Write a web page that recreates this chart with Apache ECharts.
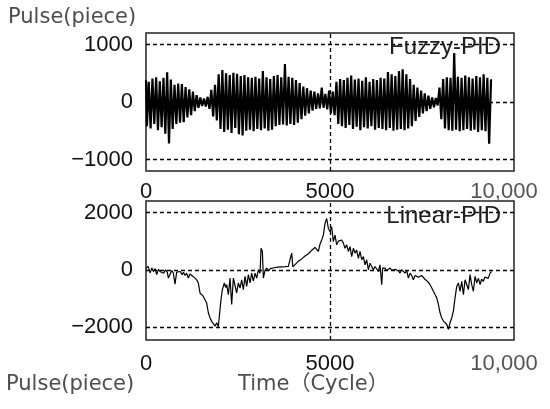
<!DOCTYPE html>
<html>
<head>
<meta charset="utf-8">
<script src="https://cdn.jsdelivr.net/npm/echarts@6/dist/echarts.min.js"></script>
<style>
html,body{margin:0;padding:0;background:#fff;}
#chart{width:550px;height:409px;}
</style>
</head>
<body>
<div id="chart"></div>
<script>
// ---------- data ----------
const xTicks = [0, 5000, 10000];
const fuzzyYTicks = [-1000, 0, 1000];
const linearYTicks = [-2000, 0, 2000];

// Fuzzy-PID: samples every 50 cycles starting at 0
const fuzzyStart = 0;
const fuzzyStep = 50;
const fuzzyValues = [
  380,-420,350,-460,410,-380,430,-490,360,-440,
  420,-550,515,-720,390,-470,300,-380,320,-360,
  310,-350,260,-270,220,-230,180,-160,120,-100,
  80,-70,60,-80,90,-120,210,-250,300,-320,
  480,-470,555,-520,500,-480,470,-540,510,-450,
  490,-560,450,-580,470,-500,430,-480,420,-510,
  440,-470,410,-490,540,-460,430,-500,400,-480,
  450,-420,470,-400,430,-390,660,-410,440,-380,
  420,-400,380,-360,330,-300,270,-240,240,-200,
  200,-150,180,-120,150,-110,250,-100,140,-130,
  200,-200,180,-230,350,-380,400,-420,380,-450,
  420,-400,460,-470,390,-430,410,-490,370,-440,
  430,-460,350,-420,400,-480,380,-450,420,-470,
  410,-490,520,-450,480,-500,450,-480,540,-470,
  570,-490,480,-460,400,-420,300,-330,250,-260,
  200,-200,150,-160,110,-120,80,-90,70,-60,
  250,-300,400,-460,430,-490,420,-500,850,-480,
  440,-510,420,-490,460,-470,430,-500,410,-480,
  450,-520,430,-490,480,-510,420,-725,380
];

// Linear-PID
const linearTime = [
  0,60,110,160,200,250,290,340,380,430,480,530,580,607,652,698,740,788,834,880,
  930,980,1020,1060,1105,1151,1195,1241,1290,1330,1377,1422,1468,1513,1558,1603,1649,1694,1740,1785,
  1830,1875,1921,1966,2011,2038,2075,2129,2170,2192,2238,2283,2328,2374,2419,2464,2510,2555,2600,2646,
  2691,2736,2781,2827,2872,2917,2963,3008,3053,3099,3126,3140,3162,3189,3234,3280,3330,3380,3430,3480,
  3530,3580,3630,3680,3730,3780,3830,3868,3920,3959,3990,4050,4095,4140,4190,4231,4280,4322,4370,4412,
  4457,4503,4548,4593,4638,4684,4730,4774,4819,4865,4910,4955,5001,5046,5091,5137,5182,5227,5272,5318,
  5363,5408,5454,5499,5544,5590,5635,5680,5725,5771,5816,5861,5907,5952,5997,6043,6088,6133,6178,6224,
  6269,6314,6360,6405,6432,6496,6540,6586,6631,6680,6722,6770,6813,6860,6903,6949,6995,7039,7085,7130,
  7175,7220,7266,7310,7356,7400,7447,7490,7537,7580,7628,7670,7719,7760,7809,7855,7900,7945,7990,8036,
  8081,8126,8172,8217,8262,8308,8353,8398,8444,8489,8534,8580,8625,8670,8715,8761,8806,8851,8897,8942,
  8987,9032,9078,9120,9168,9210,9259,9300,9349,9394
];
const linearValues = [
  50,120,-110,60,-60,40,-170,20,-60,-10,-120,0,-90,-290,-250,-30,-100,-500,-80,-130,
  -60,-170,-90,-200,-120,-290,-150,-170,-240,-200,-350,-460,-810,-760,-930,-980,-1160,-1500,-1680,-1800,
  -1880,-1970,-1850,-1990,-1960,-1040,-690,-460,-620,-520,-870,-290,-1210,-290,-230,-810,-460,-640,-350,-690,
  -230,-580,-170,-460,-115,-400,-120,-290,0,-120,750,690,650,-290,-20,60,-40,40,0,70,
  20,90,30,100,50,110,60,120,80,580,100,180,140,300,250,380,320,480,420,560,
  520,680,640,780,750,640,900,1040,1210,1620,1790,1450,1330,1500,980,1210,870,1000,980,1040,
  930,750,870,640,810,460,750,580,690,400,640,350,460,170,350,0,230,115,0,115,
  60,-60,170,-520,60,60,-30,0,60,-20,-60,20,60,-40,-115,0,-60,-115,-30,-290,
  -115,-200,-350,-200,-170,-260,-290,-200,-230,-330,-350,-430,-520,-620,-750,-860,-980,-1210,-1500,-1680,
  -1790,-1850,-1900,-2080,-1850,-1680,-1440,-980,-580,-460,-750,-400,-870,-350,-290,-690,-170,-520,-750,-230,
  -460,-290,-520,-330,-400,-250,-230,-300,-115,-60
];

// ---------- build ----------
const fuzzyData = fuzzyValues.map((v, i) => [fuzzyStart + i * fuzzyStep, v]);
const linearData = linearTime.map((t, i) => [t, linearValues[i]]);

const tickFont = 'Liberation Sans, Arial, sans-serif';
const labelFont = 'DejaVu Sans, Noto Sans CJK SC, sans-serif';

function fmtY(v){ return v < 0 ? '\u2212' + Math.abs(v) : String(v); }
function fmtX(v){ return v === 10000 ? '{g|10,000}' : String(v); }

const dash = {color:'#000', type:[4,3], width:1.3};
function gridLines(yvals){
  return {
    silent:true, symbol:['none','none'], label:{show:false},
    lineStyle:dash, animation:false,
    emphasis:{disabled:true},
    data: yvals.map(v => ({yAxis:v})).concat([{xAxis:5000}])
  };
}

function xAxisCfg(gi, margin){
  return {
    type:'value', gridIndex:gi, min:0, max:10000, interval:5000,
    axisLine:{show:false}, axisTick:{show:false}, splitLine:{show:false},
    axisLabel:{
      margin:margin, fontFamily:tickFont, fontSize:22, color:'#111',
      formatter:fmtX,
      rich:{g:{color:'#555', fontSize:22, fontFamily:tickFont, padding:[0,20,0,0]}}
    }
  };
}
function yAxisCfg(gi, mn, mx, ticks){
  return {
    type:'value', gridIndex:gi, min:mn, max:mx,
    axisLine:{show:false}, axisTick:{show:false}, splitLine:{show:false},
    axisLabel:{margin:13, fontFamily:tickFont, fontSize:22, color:'#111',
      customValues:ticks, formatter:fmtY}
  };
}

const axisTitleStyle = {fontFamily:labelFont, fontSize:21, fontWeight:'normal', color:'#4d4d4d'};
const seriesTitleStyle = {fontFamily:tickFont, fontSize:24, fontWeight:'normal', color:'#1e1e1e'};

const option = {
  animation:false,
  backgroundColor:'#fff',
  title:[
    {text:'Pulse(piece)', left:8, top:7, padding:0, textStyle:axisTitleStyle},
    {text:'Pulse(piece)', left:6, top:374, padding:0, textStyle:axisTitleStyle},
    {text:'Time\uFF08Cycle\uFF09', left:238, top:374, padding:0, textStyle:axisTitleStyle},
    {text:'Fuzzy-PID', right:49, top:35, padding:0, textStyle:seriesTitleStyle},
    {text:'Linear-PID', right:49, top:204, padding:0, textStyle:seriesTitleStyle}
  ],
  grid:[
    {left:146, top:33, width:368, height:138, show:true, borderColor:'#222', borderWidth:1.5, backgroundColor:'transparent'},
    {left:146, top:201, width:368, height:139, show:true, borderColor:'#222', borderWidth:1.5, backgroundColor:'transparent'}
  ],
  xAxis:[ xAxisCfg(0, 10), xAxisCfg(1, 13) ],
  yAxis:[ yAxisCfg(0, -1200, 1200, fuzzyYTicks), yAxisCfg(1, -2450, 2400, linearYTicks) ],
  series:[
    {type:'line', xAxisIndex:0, yAxisIndex:0, data:fuzzyData, showSymbol:false, sampling:'none', step:'middle',
      lineStyle:{color:'#000', width:2.2}, itemStyle:{color:'#000'}, markLine:gridLines(fuzzyYTicks)},
    {type:'line', xAxisIndex:1, yAxisIndex:1, data:linearData, showSymbol:false,
      lineStyle:{color:'#000', width:1.2}, itemStyle:{color:'#000'}, markLine:gridLines(linearYTicks)}
  ]
};

const chart = echarts.init(document.getElementById('chart'), null, {renderer:'canvas'});
chart.setOption(option);
</script>
</body>
</html>
